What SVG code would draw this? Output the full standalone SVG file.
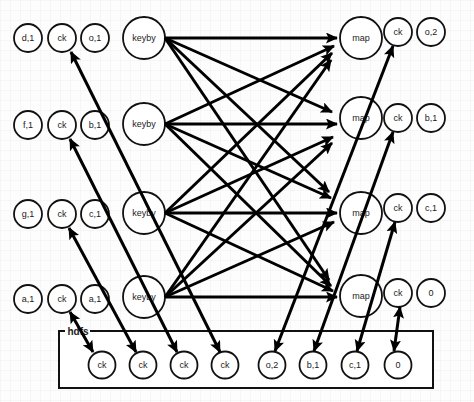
<svg xmlns="http://www.w3.org/2000/svg" width="474" height="402" viewBox="0 0 474 402">
<defs>
<pattern id="grid" width="10" height="10" patternUnits="userSpaceOnUse">
<path d="M10,0 L0,0 L0,10" fill="none" stroke="#efefef" stroke-width="1"/>
</pattern>
<marker id="ah" markerUnits="userSpaceOnUse" markerWidth="14" markerHeight="12" refX="11" refY="5.5" orient="auto-start-reverse">
<path d="M0,0 L12,5.5 L0,11 L2.5,5.5 z" fill="#000"/>
</marker>
<style>
.n circle{fill:#fff;stroke:#111;stroke-width:1.8}
.n text{font-family:"Liberation Sans",Arial,sans-serif;font-size:9px;fill:#222;text-anchor:middle;dominant-baseline:central}
.c line{stroke:#000;stroke-width:3;fill:none}
.one{marker-end:url(#ah)}
.two{marker-start:url(#ah);marker-end:url(#ah)}
</style>
</defs>
<rect width="474" height="402" fill="#fdfdfd"/>
<rect width="474" height="402" fill="url(#grid)"/>

<g id="hdfs">
<rect x="59" y="331" width="374" height="57" fill="#fff" stroke="#111" stroke-width="2"/>
<rect x="65" y="325" width="25" height="11" fill="#fdfdfd"/>
<text x="78" y="334.5" font-family="Liberation Sans,Arial,sans-serif" font-size="10" font-weight="bold" fill="#222" text-anchor="middle">hdfs</text>
</g>

<!-- left column -->
<g id="l1a" class="n"><circle cx="28" cy="38" r="14"/><text x="28" y="38">d,1</text></g>
<g id="l1b" class="n"><circle cx="62" cy="38" r="14"/><text x="62" y="38">ck</text></g>
<g id="l1c" class="n"><circle cx="95" cy="38" r="14"/><text x="95" y="38">o,1</text></g>
<g id="l2a" class="n"><circle cx="28" cy="125" r="14"/><text x="28" y="125">f,1</text></g>
<g id="l2b" class="n"><circle cx="62" cy="125" r="14"/><text x="62" y="125">ck</text></g>
<g id="l2c" class="n"><circle cx="95" cy="125" r="14"/><text x="95" y="125">b,1</text></g>
<g id="l3a" class="n"><circle cx="28" cy="214" r="14"/><text x="28" y="214">g,1</text></g>
<g id="l3b" class="n"><circle cx="62" cy="214" r="14"/><text x="62" y="214">ck</text></g>
<g id="l3c" class="n"><circle cx="95" cy="214" r="14"/><text x="95" y="214">c,1</text></g>
<g id="l4a" class="n"><circle cx="28" cy="299" r="14"/><text x="28" y="299">a,1</text></g>
<g id="l4b" class="n"><circle cx="62" cy="299" r="14"/><text x="62" y="299">ck</text></g>
<g id="l4c" class="n"><circle cx="95" cy="299" r="14"/><text x="95" y="299">a,1</text></g>

<!-- keyby -->
<g id="k1" class="n"><circle cx="144" cy="38" r="21"/><text x="144" y="38">keyby</text></g>
<g id="k2" class="n"><circle cx="144" cy="124" r="21"/><text x="144" y="124">keyby</text></g>
<g id="k3" class="n"><circle cx="144" cy="213" r="21"/><text x="144" y="213">keyby</text></g>
<g id="k4" class="n"><circle cx="144" cy="297" r="21"/><text x="144" y="297">keyby</text></g>

<!-- map -->
<g id="m1" class="n"><circle cx="361" cy="38" r="21"/><text x="361" y="38">map</text></g>
<g id="m2" class="n"><circle cx="361" cy="118" r="21"/><text x="361" y="118">map</text></g>
<g id="m3" class="n"><circle cx="361" cy="213" r="21"/><text x="361" y="213">map</text></g>
<g id="m4" class="n"><circle cx="361" cy="296" r="21"/><text x="361" y="296">map</text></g>

<!-- right column -->
<g id="r1a" class="n"><circle cx="398" cy="32" r="14"/><text x="398" y="32">ck</text></g>
<g id="r1b" class="n"><circle cx="431" cy="32" r="14"/><text x="431" y="32">o,2</text></g>
<g id="r2a" class="n"><circle cx="398" cy="118" r="14"/><text x="398" y="118">ck</text></g>
<g id="r2b" class="n"><circle cx="431" cy="118" r="14"/><text x="431" y="118">b,1</text></g>
<g id="r3a" class="n"><circle cx="398" cy="208" r="14"/><text x="398" y="208">ck</text></g>
<g id="r3b" class="n"><circle cx="431" cy="208" r="14"/><text x="431" y="208">c,1</text></g>
<g id="r4a" class="n"><circle cx="398" cy="293" r="14"/><text x="398" y="293">ck</text></g>
<g id="r4b" class="n"><circle cx="431" cy="293" r="14"/><text x="431" y="293">0</text></g>

<!-- hdfs contents -->
<g id="h1" class="n"><circle cx="102" cy="365" r="13.5"/><text x="102" y="365">ck</text></g>
<g id="h2" class="n"><circle cx="143" cy="365" r="13.5"/><text x="143" y="365">ck</text></g>
<g id="h3" class="n"><circle cx="184" cy="365" r="13.5"/><text x="184" y="365">ck</text></g>
<g id="h4" class="n"><circle cx="225" cy="365" r="13.5"/><text x="225" y="365">ck</text></g>
<g id="h5" class="n"><circle cx="272" cy="365" r="13.5"/><text x="272" y="365">o,2</text></g>
<g id="h6" class="n"><circle cx="313" cy="365" r="13.5"/><text x="313" y="365">b,1</text></g>
<g id="h7" class="n"><circle cx="355" cy="365" r="13.5"/><text x="355" y="365">c,1</text></g>
<g id="h8" class="n"><circle cx="398" cy="365" r="13.5"/><text x="398" y="365">0</text></g>

<g id="connectors" class="c">
<!-- keyby to map -->
<line class="one" x1="165" y1="38" x2="337" y2="38"/>
<line class="one" x1="165" y1="38" x2="332" y2="112"/>
<line class="one" x1="165" y1="38" x2="329" y2="192"/>
<line class="one" x1="165" y1="38" x2="329" y2="280"/>
<line class="one" x1="165" y1="124" x2="334" y2="46"/>
<line class="one" x1="165" y1="124" x2="337" y2="124"/>
<line class="one" x1="165" y1="124" x2="331" y2="198"/>
<line class="one" x1="165" y1="124" x2="331" y2="286"/>
<line class="one" x1="165" y1="213" x2="332" y2="53"/>
<line class="one" x1="165" y1="213" x2="333" y2="137"/>
<line class="one" x1="165" y1="213" x2="337" y2="213"/>
<line class="one" x1="165" y1="213" x2="333" y2="291"/>
<line class="one" x1="165" y1="297" x2="331" y2="60"/>
<line class="one" x1="165" y1="297" x2="332" y2="143"/>
<line class="one" x1="165" y1="297" x2="334" y2="222"/>
<line class="one" x1="165" y1="297" x2="337" y2="297"/>
<!-- left checkpoints to hdfs -->
<line class="two" x1="70" y1="312" x2="93" y2="352"/>
<line class="two" x1="69" y1="228" x2="136" y2="352"/>
<line class="two" x1="70" y1="139" x2="177" y2="352"/>
<line class="two" x1="71" y1="52" x2="220" y2="352"/>
<!-- right checkpoints to hdfs -->
<line class="two" x1="393" y1="46" x2="275" y2="351"/>
<line class="two" x1="393" y1="132" x2="314" y2="351"/>
<line class="two" x1="395" y1="222" x2="357" y2="351"/>
<line class="two" x1="400" y1="307" x2="394" y2="351"/>
</g>
</svg>
